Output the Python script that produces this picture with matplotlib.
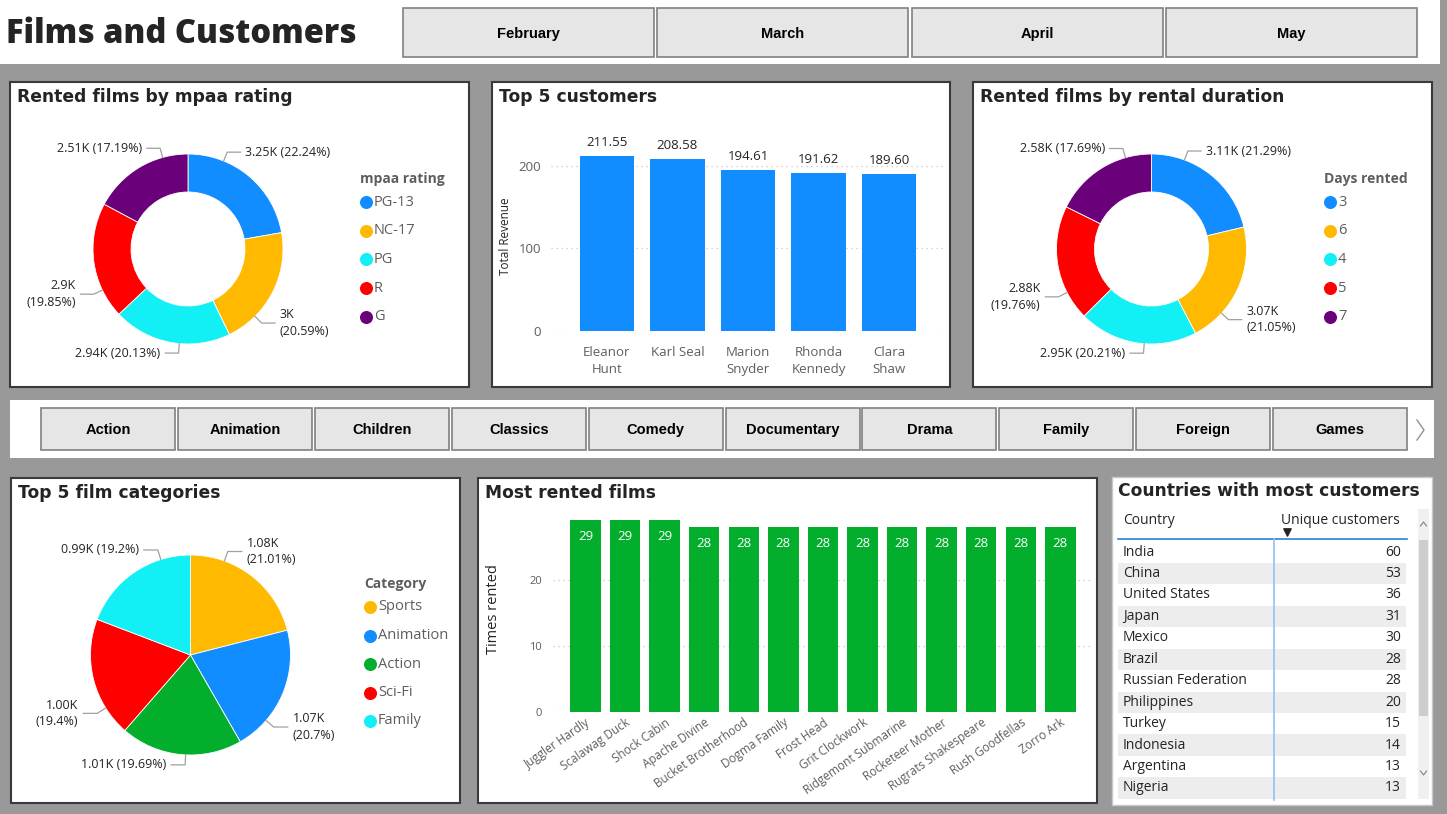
import numpy as np
import matplotlib.pyplot as plt
from matplotlib.patches import Rectangle

# Canvas size in pixels (dpi 100)
W, H = 1447, 814

# Slicer buttons
months = ['February', 'March', 'April', 'May']
film_categories = ['Action', 'Animation', 'Children', 'Classics', 'Comedy',
                   'Documentary', 'Drama', 'Family', 'Foreign', 'Games']

# Donut: mpaa rating
mpaa_ratings = ['PG-13', 'NC-17', 'PG', 'R', 'G']
mpaa_share = [22.24, 20.59, 20.13, 19.85, 17.19]
mpaa_count = ['3.25K', '3K', '2.94K', '2.9K', '2.51K']

# Donut: rental duration
days_rented = ['3', '6', '4', '5', '7']
days_share = [21.29, 21.05, 20.21, 19.76, 17.69]
days_count = ['3.11K', '3.07K', '2.95K', '2.88K', '2.58K']

# Pie: top 5 categories
top_categories = ['Sports', 'Animation', 'Action', 'Sci-Fi', 'Family']
cat_share = [21.01, 20.7, 19.69, 19.4, 19.2]
cat_count = ['1.08K', '1.07K', '1.01K', '1.00K', '0.99K']

# Top 5 customers
customers = ['Eleanor\nHunt', 'Karl Seal', 'Marion\nSnyder', 'Rhonda\nKennedy', 'Clara\nShaw']
revenue = [211.55, 208.58, 194.61, 191.62, 189.60]

# Most rented films
films = ['Juggler Hardly', 'Scalawag Duck', 'Shock Cabin', 'Apache Divine',
         'Bucket Brotherhood', 'Dogma Family', 'Frost Head', 'Grit Clockwork',
         'Ridgemont Submarine', 'Rocketeer Mother', 'Rugrats Shakespeare',
         'Rush Goodfellas', 'Zorro Ark']
times_rented = [29, 29, 29, 28, 28, 28, 28, 28, 28, 28, 28, 28, 28]

# Countries table
countries = ['India', 'China', 'United States', 'Japan', 'Mexico', 'Brazil',
             'Russian Federation', 'Philippines', 'Turkey', 'Indonesia',
             'Argentina', 'Nigeria']
unique_customers = [60, 53, 36, 31, 30, 28, 28, 20, 15, 14, 13, 13]

# Colours
BLUE, GOLD, CYAN, RED, PURPLE, GREEN = '#118DFF', '#FFB900', '#12EFF5', '#FF0000', '#6B007B', '#02AE2C'
DARK, GREY_TXT, BG = '#252423', '#605E5C', '#999999'
SANS = ['Open Sans', 'DejaVu Sans']
HEAD = ['Liberation Sans Narrow', 'Liberation Sans', 'DejaVu Sans']
TITLE = ['DejaVu Sans']

plt.rcParams['font.family'] = SANS

fig = plt.figure(figsize=(W / 100, H / 100), dpi=100)
fig.patch.set_facecolor(BG)

# background axes in pixel coordinates for panels, buttons and table
bg = fig.add_axes([0, 0, 1, 1])
bg.set_xlim(0, W)
bg.set_ylim(H, 0)
bg.axis('off')


def box(x, y, w, h, fc='white', ec='none', lw=0, z=1):
    bg.add_patch(Rectangle((x, y), w, h, facecolor=fc, edgecolor=ec, linewidth=lw, zorder=z))


def add_ax(x, y, w, h):
    ax = fig.add_axes([x / W, 1 - (y + h) / H, w / W, h / H])
    ax.patch.set_alpha(0)
    return ax


# header
box(0, 0, 1440, 64)
bg.text(6, 34, 'Films and Customers', fontsize=23.5, fontweight=800, color=DARK,
        va='center', ha='left', zorder=3)
for i, m in enumerate(months):
    x0 = 403 + i * 254.3
    box(x0, 8, 251, 49, fc='#E6E6E6', ec='#808080', lw=1.2, z=2)
    bg.text(x0 + 125.5, 34, m, fontsize=10.5, fontweight='bold', family=HEAD,
            ha='center', va='center', zorder=3)

# panels
panels = [(10, 82, 459, 305, 'Rented films by mpaa rating'),
          (492, 82, 458, 305, 'Top 5 customers'),
          (973, 82, 459, 305, 'Rented films by rental duration'),
          (11, 478, 449, 325, 'Top 5 film categories'),
          (478, 478, 619, 325, 'Most rented films')]
for x, y, w, h, t in panels:
    box(x, y, w, h, ec='#3A3A3A', lw=1.5)
    bg.text(x + 7, y + 15, t, fontsize=12.3, fontweight='bold', family=TITLE,
            color=DARK, va='center', ha='left', zorder=3)
box(1112, 477, 320, 328, ec='#C8C8C8', lw=1)
bg.text(1118, 491, 'Countries with most customers', fontsize=12.3, fontweight='bold',
        family=TITLE, color=DARK, va='center', ha='left', zorder=3)

# category slicer strip
box(10, 400, 1424, 58)
for i, c in enumerate(film_categories):
    x0 = 41 + i * 136.9
    box(x0, 408, 134, 42, fc='#E6E6E6', ec='#808080', lw=1.2, z=2)
    bg.text(x0 + 67, 430, c, fontsize=10.5, fontweight='bold', family=HEAD,
            ha='center', va='center', zorder=3)
bg.plot([1417, 1424, 1417], [420, 430, 440], color='#909090', lw=1, zorder=3)


def pie_with_labels(ax, shares, counts, colors, wrap, hole):
    wp = dict(edgecolor='white', linewidth=0.6)
    if hole:
        wp['width'] = hole
    ax.pie(shares, colors=colors, startangle=90, counterclock=False,
           radius=1, wedgeprops=wp)
    cum = 0
    for s, c, wr in zip(shares, counts, wrap):
        mid = 90 - (cum + s / 2) * 3.6
        cum += s
        mid = (mid + 180) % 360 - 180
        target = 90 if mid > 0 else -90
        dist = target - mid
        anchor = np.radians(mid + np.sign(dist) * min(18, abs(dist) * 0.5))
        ux, uy = np.cos(anchor), np.sin(anchor)
        side = 1 if ux >= 0 else -1
        x1, y1 = 1.1 * ux, 1.1 * uy
        x2 = x1 + side * 0.14
        ax.plot([ux, x1, x2], [uy, y1, y1], color='#A0A0A0', lw=0.9, clip_on=False)
        sep = '\n' if wr else ' '
        ax.text(x2 + side * 0.05, y1, f'{c}{sep}({s:g}%)', fontsize=9, color=DARK,
                ha='left' if side > 0 else 'right', va='center', linespacing=1.35,
                multialignment='left' if side > 0 else 'right')


def pie_axes(cx, cy, r):
    hw, hh = 1.9, 1.35
    ax = add_ax(cx - hw * r, cy - hh * r, 2 * hw * r, 2 * hh * r)
    return ax, (hw, hh)


def legend(x, y, title, names, colors, step):
    bg.text(x, y, title, fontsize=10, fontweight='bold', color=GREY_TXT,
            ha='left', va='center', zorder=3)
    for i, (n, col) in enumerate(zip(names, colors)):
        yy = y + 23 + i * step
        bg.scatter([x + 6], [yy], s=70, color=col, zorder=3)
        bg.text(x + 14, yy, n, fontsize=10.5, color=GREY_TXT, ha='left', va='center', zorder=3)


donut_colors = [BLUE, GOLD, CYAN, RED, PURPLE]

for (cx, cy, r), shares, counts, names, ltitle, lx in [
        ((188, 249, 95), mpaa_share, mpaa_count, mpaa_ratings, 'mpaa rating', 360),
        ((1151.5, 249, 95), days_share, days_count, days_rented, 'Days rented', 1324)]:
    ax, (hw, hh) = pie_axes(cx, cy, r)
    pie_with_labels(ax, shares, counts, donut_colors, [False, True, False, True, False], 0.4)
    ax.set_xlim(-hw, hw)
    ax.set_ylim(-hh, hh)
    legend(lx, 179, ltitle, names, donut_colors, 28.7)

cat_colors = [GOLD, BLUE, GREEN, RED, CYAN]
ax, (hw, hh) = pie_axes(190.5, 655, 100)
pie_with_labels(ax, cat_share, cat_count, cat_colors, [True, True, False, True, False], None)
ax.set_xlim(-hw, hw)
ax.set_ylim(-hh, hh)
legend(364, 584, 'Category', top_categories, cat_colors, 28.5)


def style_bar_axes(ax, ticks):
    for s in ax.spines.values():
        s.set_visible(False)
    ax.set_yticks(ticks)
    ax.tick_params(length=0, colors=GREY_TXT)
    ax.grid(axis='y', color='#C8C8C8', linestyle=(0, (1, 3)), linewidth=0.9)
    ax.set_axisbelow(True)


# Top 5 customers
ax = add_ax(551, 141, 394, 190)
xs = np.arange(len(customers))
ax.bar(xs, revenue, width=0.77, color=BLUE)
ax.set_xlim(-0.79, len(customers) - 0.21)
ax.set_ylim(0, 230)
style_bar_axes(ax, [0, 100, 200])
ax.set_xticks(xs, customers, fontsize=9.5, color=GREY_TXT, linespacing=1.35)
ax.tick_params(axis='x', pad=11)
ax.tick_params(axis='y', labelsize=9.5, pad=7)
for x, v in zip(xs, revenue):
    ax.annotate(f'{v:.2f}', (x, v), xytext=(0, 5), textcoords='offset points',
                ha='center', va='bottom', fontsize=9.5, color=DARK)
ax.set_ylabel('Total Revenue', fontsize=8.5, color=DARK, labelpad=5)

# Most rented films
ax = add_ax(553, 507, 537, 205)
xs = np.arange(len(films))
ax.bar(xs, times_rented, width=0.77, color=GREEN)
ax.set_xlim(-0.82, len(films) - 0.25)
ax.set_ylim(0, 31)
style_bar_axes(ax, [0, 10, 20])
ax.set_xticks(xs, films, fontsize=8.5, color=GREY_TXT, rotation=35,
              ha='right', rotation_mode='anchor')
ax.tick_params(axis='x', pad=3)
ax.tick_params(axis='y', labelsize=8, pad=8)
for x, v in zip(xs, times_rented):
    ax.annotate(f'{v}', (x, v), xytext=(0, -7), textcoords='offset points',
                ha='center', va='top', fontsize=9.5, color='white')
ax.set_ylabel('Times rented', fontsize=10.5, color=DARK, labelpad=20)

# Countries table
bg.text(1123, 521, 'Country', fontsize=10, color=DARK, va='center', zorder=3)
bg.text(1281, 521, 'Unique customers', fontsize=10, color=DARK, va='center', zorder=3)
bg.scatter([1287], [532], marker='v', s=28, color=DARK, zorder=3)
bg.plot([1118, 1407], [539, 539], color='#2F7FD0', lw=1.2, zorder=3)
for i, (c, n) in enumerate(zip(countries, unique_customers)):
    yy = 552 + i * 21.45
    if i % 2 == 1:
        box(1118, yy - 10.6, 288, 21.2, fc='#EDEDED', z=2)
    bg.text(1123, yy, c, fontsize=10, color=DARK, va='center', zorder=3)
    bg.text(1401, yy, f'{n}', fontsize=10, color=DARK, va='center', ha='right', zorder=3)
bg.plot([1274, 1274], [539, 800], color='#8CC3F5', lw=1.2, zorder=4)
box(1418, 509, 11, 290, fc='#F0F0F0', z=2)
box(1419, 540, 9, 176, fc='#CDCDCD', z=3)
bg.plot([1420.5, 1423.5, 1426.5], [526, 522, 526], color='#808080', lw=0.8, zorder=4)
bg.plot([1420.5, 1423.5, 1426.5], [771, 775, 771], color='#808080', lw=0.8, zorder=4)

plt.savefig('out.png', dpi=100, facecolor=fig.get_facecolor())
